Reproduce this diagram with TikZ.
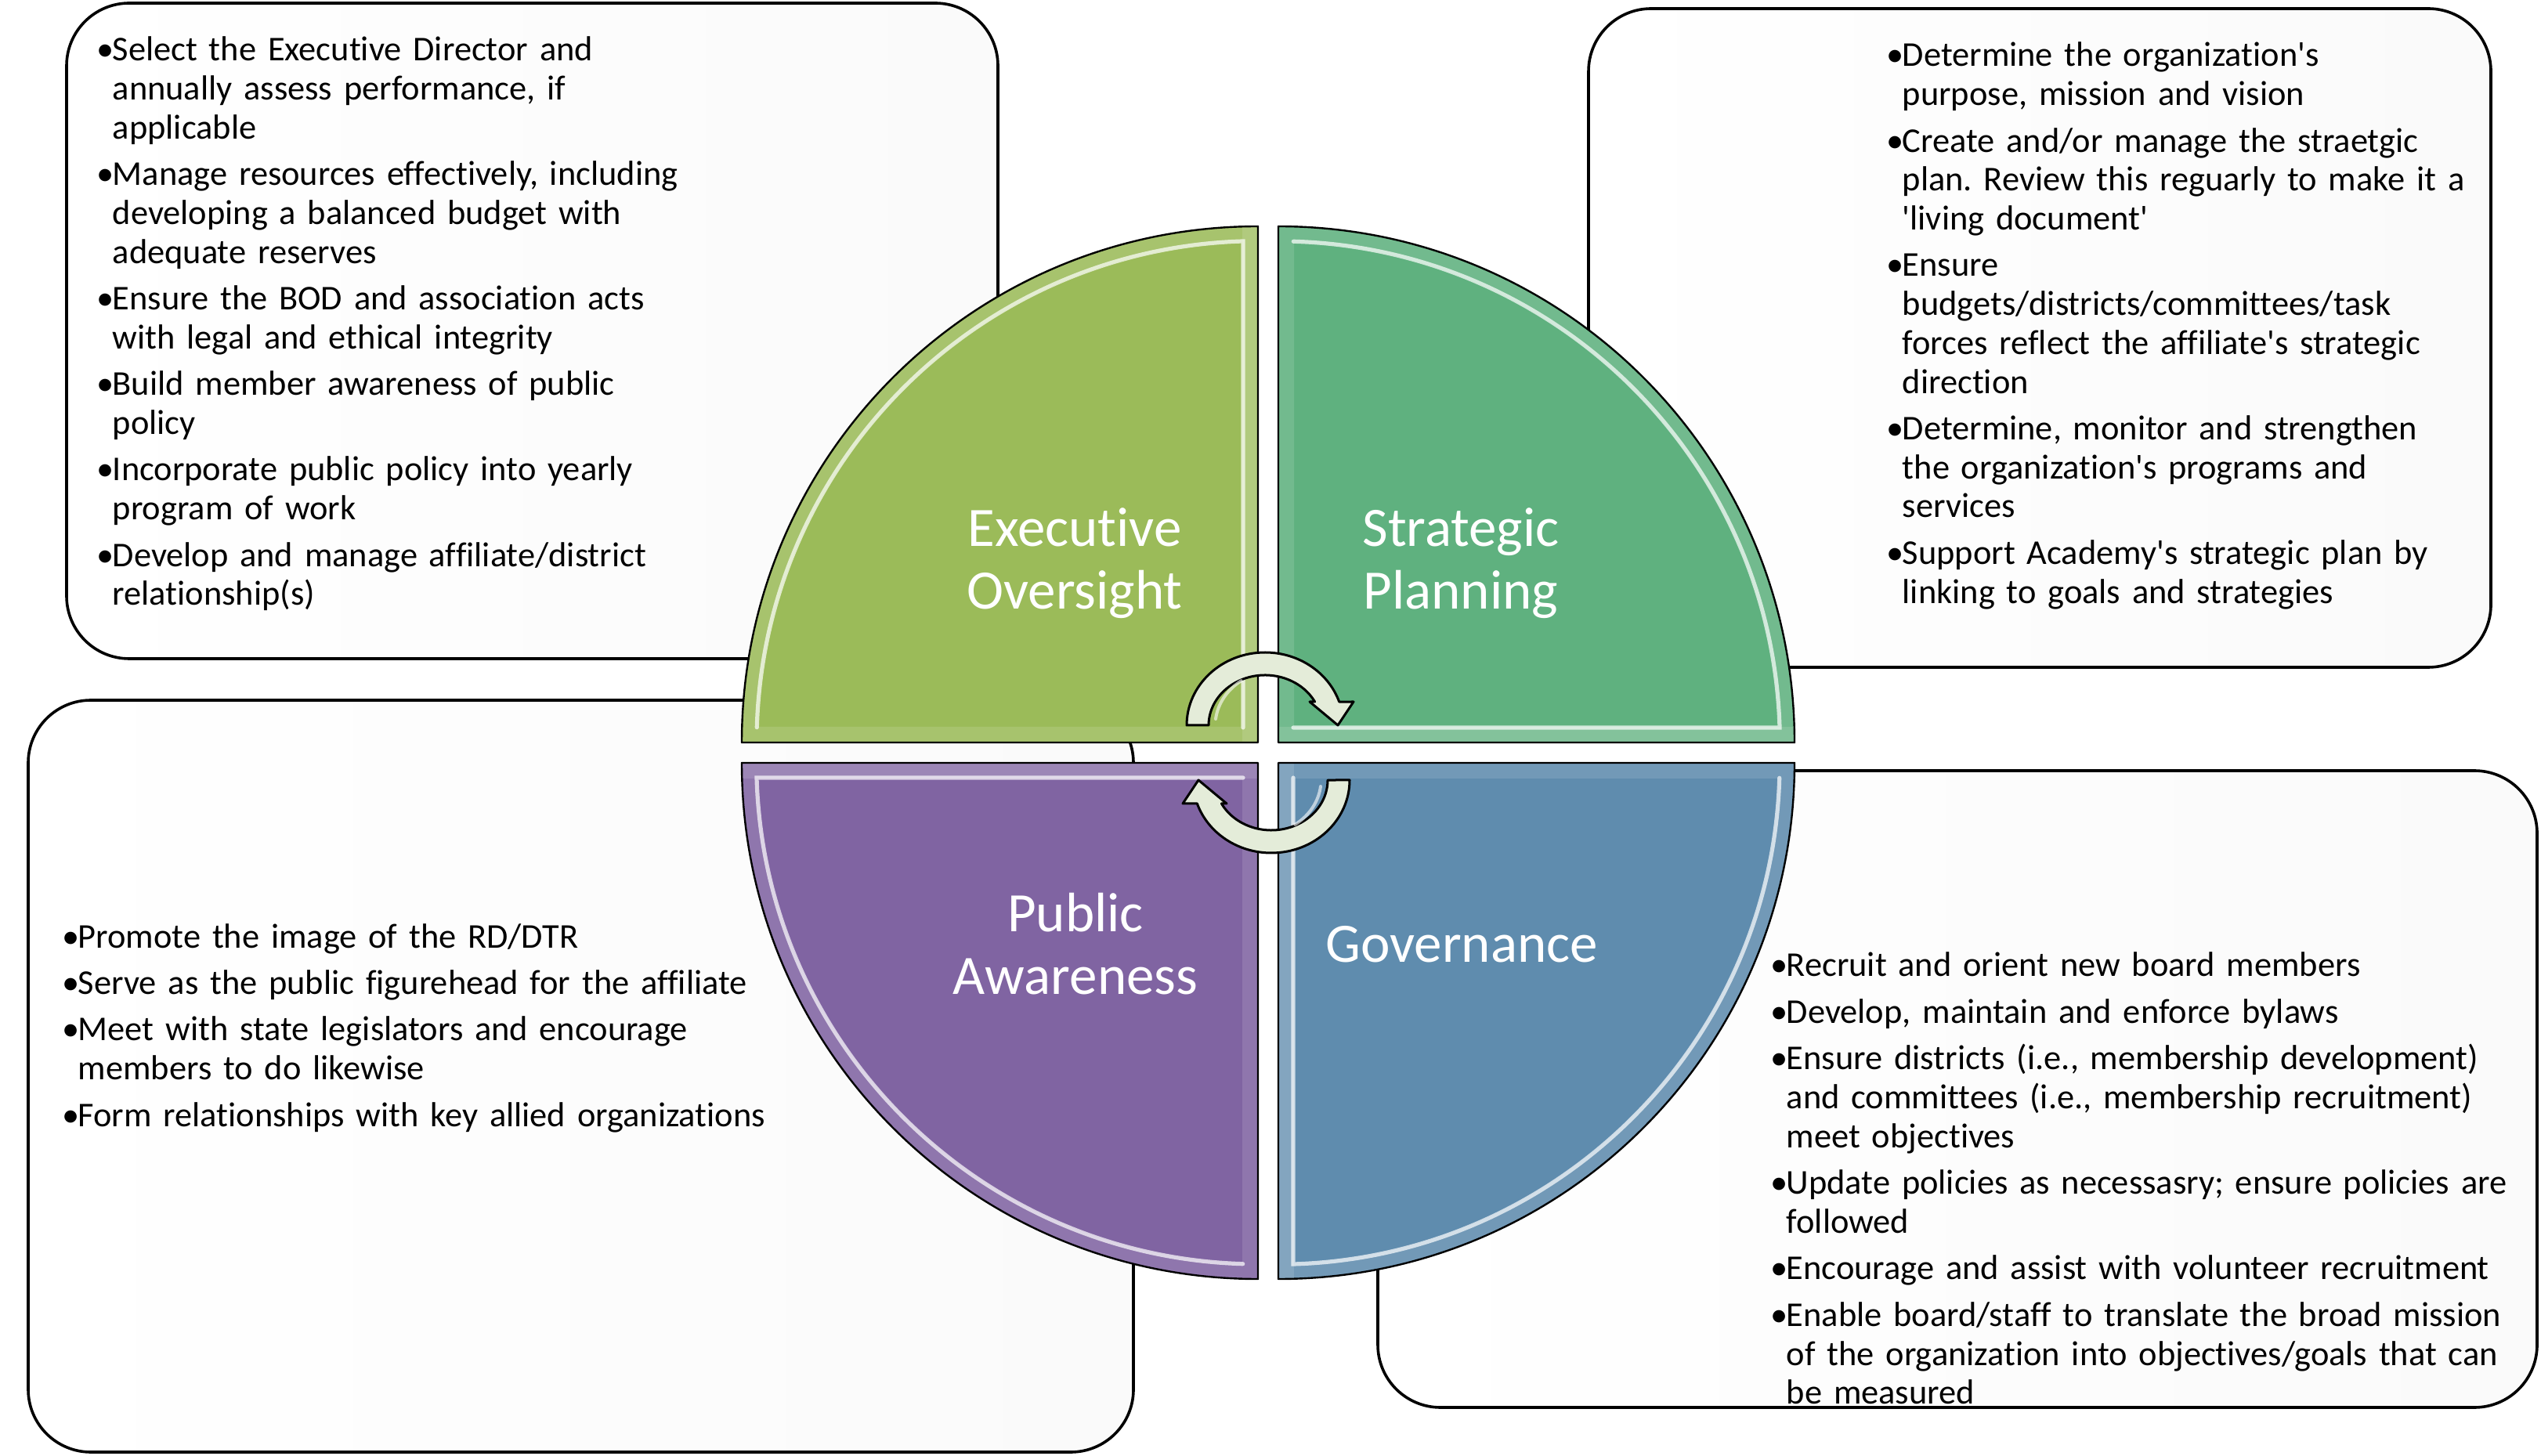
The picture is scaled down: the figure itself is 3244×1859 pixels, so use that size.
\documentclass[tikz,border=0pt]{standalone}
\usepackage{fontspec}
\setmainfont{Carlito}[Ligatures={NoCommon}]
\definecolor{qgreen}{HTML}{9BBB59}
\definecolor{qteal}{HTML}{5FB17F}
\definecolor{qpurple}{HTML}{8064A2}
\definecolor{qblue}{HTML}{5F8CAE}
\definecolor{arrowfill}{HTML}{E4ECD9}
\newcommand\aps{\textquotesingle}
\newcommand\bu{\makebox[5pt][l]{•}}
\newcommand\ind{\hspace*{5pt}}
\newcommand\drawquad[2]{%
  \begin{scope}[rotate around={#1:(1619,961)}]
    \fill[#2] (1606,948) -- (1606,289) arc[start angle=270,end angle=180,radius=659] -- cycle;
    \begin{scope}
      \clip (1606,948) -- (1606,289) arc[start angle=270,end angle=180,radius=659] -- cycle;
      \draw[qband] (1606,948) -- (1606,289) arc[start angle=270,end angle=180,radius=659] -- cycle;
      \draw[qband] (1606,948) -- (1606,289);
      \draw[qshine] (1587,929) -- (1587,308) arc[start angle=268.3,end angle=181.7,radius=640];
    \end{scope}
    \draw[qedge] (1606,948) -- (1606,289) arc[start angle=270,end angle=180,radius=659] -- cycle;
  \end{scope}}
\begin{document}
\begin{tikzpicture}[x=0.25pt,y=-0.25pt,
  infobox/.style={draw=black,line width=0.9pt,rounded corners=20pt,left color=white,right color=black!2},
  qedge/.style={draw=black,line width=0.6pt,line join=round},
  qband/.style={draw=white,line width=10pt,opacity=0.12},
  qshine/.style={draw=white,line width=1.3pt,opacity=0.7,line cap=round},
  cyclearrow/.style={fill=arrowfill,draw=black,line width=0.75pt,line join=round},
  arrowshine/.style={draw=white,line width=1pt,opacity=0.6,line cap=round},
  bullets/.style={anchor=base west,inner sep=0pt,text width=300pt,align=left,font=\frenchspacing\fontsize{11.1pt}{12.42pt}\selectfont},
  qlabel/.style={anchor=base,inner sep=0pt,text width=200pt,align=center,text=white,font=\fontsize{17.75pt}{20pt}\selectfont}]
\useasboundingbox (0,0) rectangle (3244,1859);
\fill[white] (0,0) rectangle (3244,1859);
% information boxes
\draw[infobox] (85,4) rectangle (1274,841);
\draw[infobox] (2028,11) rectangle (3180,852);
\draw[infobox] (36,894) rectangle (1447,1854);
\draw[infobox] (1759,984) rectangle (3239,1797);
% quadrants
\drawquad{0}{qgreen}
\drawquad{-90}{qteal}
\drawquad{180}{qblue}
\drawquad{90}{qpurple}
% cycle arrows
\draw[cyclearrow] (1515,926) arc[start angle=180,end angle=341.2,x radius=100,y radius=93]
  -- (1728,896) -- (1708,926) -- (1672,896) -- (1678.6,896)
  arc[start angle=332.05,end angle=180,x radius=72,y radius=64] -- cycle;
\draw[arrowshine] (1552,918) arc[start angle=187,end angle=235,x radius=78,y radius=70];
\begin{scope}[rotate around={180:(1619,961)}]
\draw[cyclearrow] (1515,926) arc[start angle=180,end angle=341.2,x radius=100,y radius=93]
  -- (1728,896) -- (1708,926) -- (1672,896) -- (1678.6,896)
  arc[start angle=332.05,end angle=180,x radius=72,y radius=64] -- cycle;
\draw[arrowshine] (1552,918) arc[start angle=187,end angle=235,x radius=78,y radius=70];
\end{scope}
% quadrant labels
\node[qlabel] (exec) at (1372,698) {Executive\\Oversight};
\node[qlabel] (strat) at (1865,698) {Strategic\\Planning};
\node[qlabel] (pub) at (1373,1190) {Public\\Awareness};
\node[qlabel] (gov) at (1866,1229) {Governance};
% box texts
\node[bullets] (tltext) at (123,78) {\bu Select the Executive Director and\\
\ind annually assess performance, if\\
\ind applicable\\[2.45pt]
\bu Manage resources effectively, including\\
\ind developing a balanced budget with\\
\ind adequate reserves\\[2.45pt]
\bu Ensure the BOD and association acts\\
\ind with legal and ethical integrity\\[2.45pt]
\bu Build member awareness of public\\
\ind policy\\[2.45pt]
\bu Incorporate public policy into yearly\\
\ind program of work\\[2.45pt]
\bu Develop and manage affiliate/district\\
\ind relationship(s)};
\node[bullets] (trtext) at (2408,85) {\bu Determine the organization\aps s\\
\ind purpose, mission and vision\\[2.45pt]
\bu Create and/or manage the straetgic\\
\ind plan. Review this reguarly to make it a\\
\ind \aps living document\aps\\[2.45pt]
\bu Ensure\\
\ind budgets/districts/committees/task\\
\ind forces reflect the affiliate\aps s strategic\\
\ind direction\\[2.45pt]
\bu Determine, monitor and strengthen\\
\ind the organization\aps s programs and\\
\ind services\\[2.45pt]
\bu Support Academy\aps s strategic plan by\\
\ind linking to goals and strategies};
\node[bullets] (bltext) at (79,1210) {\bu Promote the image of the RD/DTR\\[2.45pt]
\bu Serve as the public figurehead for the affiliate\\[2.45pt]
\bu Meet with state legislators and encourage\\
\ind members to do likewise\\[2.45pt]
\bu Form relationships with key allied organizations};
\node[bullets] (brtext) at (2260,1247) {\bu Recruit and orient new board members\\[2.45pt]
\bu Develop, maintain and enforce bylaws\\[2.45pt]
\bu Ensure districts (i.e., membership development)\\
\ind and committees (i.e., membership recruitment)\\
\ind meet objectives\\[2.45pt]
\bu Update policies as necessasry; ensure policies are\\
\ind followed\\[2.45pt]
\bu Encourage and assist with volunteer recruitment\\[2.45pt]
\bu Enable board/staff to translate the broad mission\\
\ind of the organization into objectives/goals that can\\
\ind be measured};
\end{tikzpicture}
\end{document}
